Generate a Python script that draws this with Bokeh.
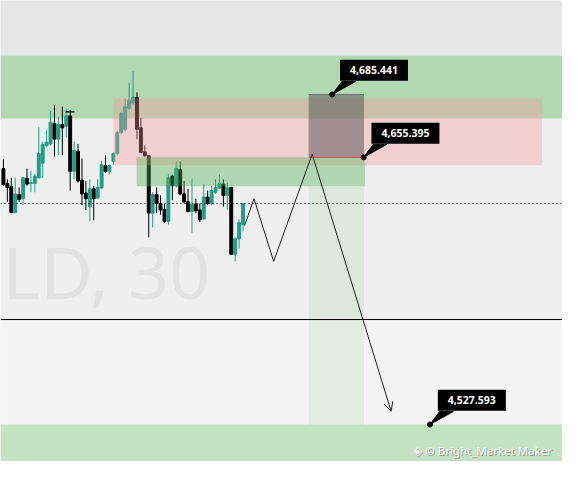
import numpy as np
from bokeh.plotting import figure
from bokeh.models import BoxAnnotation, Span, Arrow, OpenHead, ColumnDataSource, Range1d
from bokeh.core.properties import value
from bokeh.embed import file_html
from bokeh.resources import INLINE

# ---------------- data ----------------
opens = [4650.0, 4642.9, 4641.3, 4629.0, 4637.5, 4635.6, 4645.3, 4642.9, 4642.9, 4645.6,
         4652.6, 4661.1, 4661.8, 4671.5, 4664.1, 4671.1, 4670.3, 4675.2, 4648.7, 4658.3,
         4644.4, 4638.3, 4631.8, 4640.3, 4635.9, 4640.7, 4651.3, 4648.7, 4653.4, 4657.2,
         4667.2, 4668.8, 4678.8, 4681.4, 4683.9, 4669.5, 4658.0, 4656.1, 4628.7, 4637.6,
         4633.3, 4630.5, 4624.8, 4646.4, 4641.8, 4649.5, 4637.9, 4634.1, 4629.5, 4633.0,
         4630.2, 4625.9, 4636.4, 4633.3, 4638.7, 4640.7, 4642.6, 4637.2, 4641.0, 4609.0,
         4616.4, 4623.3]
highs = [4654.4, 4644.9, 4645.6, 4645.6, 4641.0, 4646.0, 4650.0, 4649.0, 4647.5, 4669.8,
         4662.9, 4668.5, 4677.7, 4680.3, 4674.9, 4679.6, 4678.8, 4678.0, 4662.9, 4661.8,
         4654.9, 4644.1, 4644.9, 4641.8, 4644.9, 4653.7, 4656.4, 4651.8, 4657.7, 4668.0,
         4677.2, 4683.4, 4691.1, 4696.5, 4686.5, 4674.2, 4661.1, 4656.4, 4638.7, 4641.0,
         4637.2, 4633.0, 4647.5, 4647.2, 4653.4, 4653.4, 4644.1, 4640.3, 4645.2, 4635.6,
         4633.3, 4642.6, 4639.5, 4641.8, 4644.9, 4647.2, 4644.9, 4643.3, 4641.3, 4617.1,
         4625.6, 4633.6]
lows = [4641.8, 4634.1, 4628.7, 4628.7, 4634.1, 4632.5, 4641.8, 4638.7, 4638.7, 4645.3,
        4645.6, 4660.3, 4661.1, 4655.7, 4656.4, 4656.4, 4664.9, 4639.5, 4644.9, 4643.3,
        4632.5, 4630.2, 4624.8, 4625.3, 4635.6, 4640.3, 4648.0, 4647.2, 4651.8, 4656.4,
        4666.5, 4668.0, 4678.0, 4680.3, 4664.1, 4657.2, 4655.7, 4617.1, 4621.8, 4628.7,
        4627.9, 4624.1, 4623.3, 4634.9, 4641.0, 4637.2, 4633.3, 4629.0, 4619.4, 4628.7,
        4624.4, 4625.6, 4632.5, 4632.5, 4637.9, 4640.3, 4631.8, 4630.2, 4608.7, 4605.6,
        4611.7, 4620.0]
closes = [4642.3, 4641.0, 4629.0, 4637.9, 4635.2, 4645.6, 4642.6, 4643.3, 4646.3, 4657.2,
          4661.5, 4662.6, 4672.2, 4664.1, 4671.1, 4669.5, 4675.2, 4648.7, 4658.7, 4644.1,
          4637.9, 4635.6, 4640.3, 4635.6, 4641.0, 4651.8, 4648.7, 4651.5, 4657.2, 4667.2,
          4676.5, 4679.6, 4682.6, 4684.2, 4668.8, 4657.7, 4656.1, 4628.7, 4637.6, 4633.3,
          4630.2, 4624.8, 4645.6, 4641.8, 4650.0, 4637.9, 4634.1, 4629.5, 4633.0, 4629.8,
          4625.6, 4636.4, 4633.3, 4639.5, 4641.0, 4642.9, 4637.2, 4641.0, 4609.0, 4616.4,
          4624.1, 4633.3]

# price levels of the zones
top_band = [4704.0, 4674.0]            # full-width green zone
bottom_band_top = 4527.593             # full-width green zone at bottom
pink_zone = [28.0, 137.1, 4683.6, 4651.6]      # left, right (bar), top, bottom (price)
small_green = [33.9, 92.1, 4655.4, 4641.6]
entry_box = [77.7, 91.8, 4685.441, 4655.395]
target_box = [77.7, 91.8, 4641.6, 4527.593]
dotted_level = 4633.3
solid_level = 4577.8
high_mark = [15.8, 18.1, 4677.1]

# projected path
path_bar = [61.4, 63.8, 68.8, 78.6, 98.7]
path_price = [4622.7, 4635.6, 4605.6, 4656.9, 4533.9]

# callouts
label_text = ["4,685.441", "4,655.395", "4,527.593"]
label_price = [4685.441, 4655.395, 4527.593]
label_bar = [83.7, 91.7, 108.6]

watermark = "LD, 30"
credit = "◈ © Bright_Market Maker"

# ---------------- figure ----------------
W, H = 562, 461
X0, X1 = -0.74, 142.33
Y0, Y1 = 4509.9, 4730.4
PXB = 4.04    # reference px per bar
PXP = 2.163   # reference px per price unit

p = figure(width=W, height=H, x_range=Range1d(X0, X1), y_range=Range1d(Y0, Y1),
           output_backend="svg", toolbar_location=None, min_border=0,
           background_fill_color="#efefef", border_fill_color="#efefef",
           outline_line_color=None)
p.axis.visible = False
p.grid.visible = False

def band(top=None, bottom=None, color="#fff"):
    kw = dict(fill_color=color, fill_alpha=1.0, line_color=None, level="underlay")
    if top is not None:
        kw["top"] = top
    if bottom is not None:
        kw["bottom"] = bottom
    p.add_layout(BoxAnnotation(**kw))

band(bottom=top_band[0], color="#e6e6e6")
band(top=top_band[0], bottom=top_band[1], color="#b2d8b1")
band(top=solid_level, color="#f4f4f4")
band(top=bottom_band_top, color="#c3e3c2")

# watermark
p.text(x=[X0 + 0.5], y=[4600.9], text=[watermark], text_font=value("Noto Sans"),
       text_font_size="72px", text_color="#e2e2e2", text_align="left",
       text_baseline="alphabetic")

# light green target column
p.quad(left=[target_box[0]], right=[target_box[1]], top=[target_box[2]], bottom=[target_box[3]],
       fill_color="#4caf50", fill_alpha=0.1, line_color=None)

# candles
x = np.arange(len(opens))
o = np.array(opens); c = np.array(closes)
cols = np.where(c >= o, "#1e9e86", "#000000")
src = ColumnDataSource(dict(x=x, hi=highs, lo=lows, top=np.maximum(o, c), bot=np.minimum(o, c), col=cols))
p.segment(x0="x", y0="lo", x1="x", y1="hi", line_color="col", line_width=1, source=src)
p.vbar(x="x", width=0.74, top="top", bottom="bot", fill_color="col", line_color="col",
       line_width=1, source=src)
p.segment(x0=[high_mark[0]], y0=[high_mark[2]], x1=[high_mark[1]], y1=[high_mark[2]],
          line_color="black", line_width=1.2)

# zones over candles
p.quad(left=[pink_zone[0]], right=[pink_zone[1]], top=[pink_zone[2]], bottom=[pink_zone[3]],
       fill_color="#f8969c", fill_alpha=0.35, line_color=None)
p.quad(left=[small_green[0]], right=[small_green[1]], top=[small_green[2]], bottom=[small_green[3]],
       fill_color="#4caf50", fill_alpha=0.38, line_color=None)
p.quad(left=[entry_box[0]], right=[entry_box[1]], top=[entry_box[2]], bottom=[entry_box[3]],
       fill_color="#505050", fill_alpha=0.5, line_color=None)
p.segment(x0=[entry_box[0]], y0=[entry_box[2]], x1=[entry_box[1]], y1=[entry_box[2]],
          line_color="#707070", line_width=1)
p.segment(x0=[entry_box[0]], y0=[entry_box[3]], x1=[entry_box[1]], y1=[entry_box[3]],
          line_color="#d9534f", line_width=1)

# horizontal levels
p.add_layout(Span(location=dotted_level, dimension="width", line_color="black",
                  line_dash="1 3", line_width=1))
p.add_layout(Span(location=solid_level, dimension="width", line_color="black", line_width=1))

# projected path
p.line(x=path_bar[:4], y=path_price[:4], line_color="#222222", line_width=1)
p.add_layout(Arrow(x_start=path_bar[3], y_start=path_price[3], x_end=path_bar[4], y_end=path_price[4],
                   line_color="#222222", line_width=1,
                   end=OpenHead(size=9, line_color="#222222", line_width=1)))

# callouts
dx_box, dy_box = 43 / PXB, 25 / PXP
t1x, t2x, ty = 10 / PXB, 24 / PXB, 13.5 / PXP
tails_x, tails_y = [], []
for b, pr in zip(label_bar, label_price):
    tails_x.append([b + t1x, b + t2x, b])
    tails_y.append([pr + ty, pr + ty, pr])
p.patches(xs=tails_x, ys=tails_y, fill_color="black", line_color="black")
bx = [b + dx_box for b in label_bar]
by = [pr + dy_box for pr in label_price]
p.rect(x=bx, y=by, width=68, height=21, width_units="screen", height_units="screen",
       fill_color="black", line_color=None)
p.text(x=bx, y=by, text=label_text, text_color="white", text_font=value("Open Sans"),
       text_font_style="bold", text_font_size="10.5px", text_align="center",
       text_baseline="middle")
p.scatter(x=label_bar, y=label_price, size=5, color="black")

# credit
p.text(x=[104.3], y=[4515.4], text=[credit], text_color="#8f9c8f", text_font=value("Noto Sans"),
       text_font_size="11.5px", text_align="left", text_baseline="alphabetic", x_offset=1, y_offset=1)
p.text(x=[104.3], y=[4515.4], text=[credit], text_color="#f7faf7", text_font=value("Noto Sans"),
       text_font_size="11.5px", text_align="left", text_baseline="alphabetic")

open("out.html", "w").write(file_html(p, INLINE))
